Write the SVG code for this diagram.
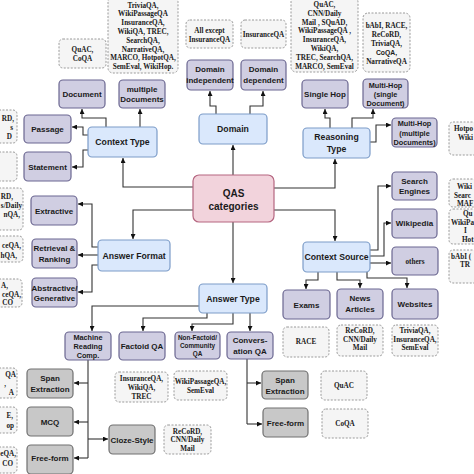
<svg xmlns="http://www.w3.org/2000/svg" width="474" height="474" viewBox="0 0 474 474">
<style>
.cat{fill:#dae8fc;stroke:#7c9cc8;stroke-width:1.2}
.qas{fill:#f2d3dc;stroke:#b56680;stroke-width:1.2}
.leaf{fill:#d0cee2;stroke:#6b6791;stroke-width:1.2}
.gray{fill:#c8c8c8;stroke:#707070;stroke-width:1.2}
.ds{fill:#f5f5f5;stroke:#9a9a9a;stroke-width:1;stroke-dasharray:2 1.5}
text{font-family:"Liberation Sans",Arial,sans-serif;font-weight:bold;fill:#1a1a1a;text-anchor:middle}
.tc{font-size:8.7px}
.tq{font-size:10px}
.tl{font-size:8px}
.ts{font-size:7.3px}
.tx{font-size:6.4px}
.td{font-family:"Liberation Serif","Times New Roman",serif;font-size:7.2px}
.e{text-anchor:end}
.s{text-anchor:start}
.con path{fill:none;stroke:#333;stroke-width:1.1}
</style>
<defs>
<marker id="a" viewBox="0 0 6 6" refX="6" refY="3" markerWidth="5" markerHeight="5" markerUnits="userSpaceOnUse" orient="auto"><path d="M0,0L6,3L0,6z" fill="#111"/></marker>
</defs>
<rect width="474" height="474" fill="#fff"/>

<g class="con">
<path d="M233 175V145" marker-end="url(#a)"/>
<path d="M216 114V106H210V91" marker-end="url(#a)"/>
<path d="M250 114V106H263V91" marker-end="url(#a)"/>
<path d="M193 187H123V158" marker-end="url(#a)"/>
<path d="M106 127V118H82V109" marker-end="url(#a)"/>
<path d="M140 127V109" marker-end="url(#a)"/>
<path d="M88 135H83V127H72" marker-end="url(#a)"/>
<path d="M88 150H83V167H72" marker-end="url(#a)"/>
<path d="M193 210H133V239" marker-end="url(#a)"/>
<path d="M98 247H92V204H78" marker-end="url(#a)"/>
<path d="M98 255H78" marker-end="url(#a)"/>
<path d="M98 265H92V292H78" marker-end="url(#a)"/>
<path d="M274 188H335V159" marker-end="url(#a)"/>
<path d="M330 128V118H325V109" marker-end="url(#a)"/>
<path d="M352 128V118H373V109" marker-end="url(#a)"/>
<path d="M370 142H376V125H391" marker-end="url(#a)"/>
<path d="M274 210H335V241" marker-end="url(#a)"/>
<path d="M370 250H378V186H391" marker-end="url(#a)"/>
<path d="M370 256H384V223H391" marker-end="url(#a)"/>
<path d="M370 263H391" marker-end="url(#a)"/>
<path d="M318 272V280H306V289" marker-end="url(#a)"/>
<path d="M337 272V280H360V288" marker-end="url(#a)"/>
<path d="M367 272V278H407V288" marker-end="url(#a)"/>
<path d="M233 222V283" marker-end="url(#a)"/>
<path d="M199 306H92V331" marker-end="url(#a)"/>
<path d="M207 313V318H143V331" marker-end="url(#a)"/>
<path d="M233 313V324H192V331" marker-end="url(#a)"/>
<path d="M250 313V331" marker-end="url(#a)"/>
<path d="M88 360V458"/>
<path d="M88 383H74" marker-end="url(#a)"/>
<path d="M88 422H74" marker-end="url(#a)"/>
<path d="M88 458H74" marker-end="url(#a)"/>
<path d="M88 439H108" marker-end="url(#a)"/>
<path d="M247 359V424"/>
<path d="M247 383H261" marker-end="url(#a)"/>
<path d="M247 424H262" marker-end="url(#a)"/>
</g>

<g id="qas"><rect class="qas" x="193" y="175" width="81" height="47" rx="6"/><text class="tq" x="233.5" y="196.5">QAS</text><text class="tq" x="233.5" y="209.5">categories</text></g>
<g id="domain"><rect class="cat" x="199" y="114" width="68" height="30" rx="4"/><text class="tc" x="233" y="132">Domain</text></g>
<g id="context-type"><rect class="cat" x="88" y="127" width="69" height="30" rx="4"/><text class="tc" x="122.5" y="145">Context Type</text></g>
<g id="reasoning-type"><rect class="cat" x="303" y="128" width="67" height="30" rx="4"/><text class="tc" x="336.5" y="140">Reasoning</text><text class="tc" x="336.5" y="151.5">Type</text></g>
<g id="answer-format"><rect class="cat" x="98" y="240" width="72" height="31" rx="4"/><text class="tc" x="134" y="258.5">Answer Format</text></g>
<g id="context-source"><rect class="cat" x="303" y="242" width="67" height="30" rx="4"/><text class="tc" x="336.5" y="260">Context Source</text></g>
<g id="answer-type"><rect class="cat" x="199" y="284" width="68" height="29" rx="4"/><text class="tc" x="233" y="301.5">Answer Type</text></g>

<g id="document"><rect class="leaf" x="59" y="80" width="46" height="28" rx="4"/><text class="tl" x="82" y="97">Document</text></g>
<g id="multiple-documents"><rect class="leaf" x="119" y="80" width="46" height="28" rx="4"/><text class="tl" x="142" y="92">multiple</text><text class="tl" x="142" y="102">Documents</text></g>
<g id="domain-independent"><rect class="leaf" x="187" y="60" width="46" height="30" rx="4"/><text class="tl" x="210" y="72">Domain</text><text class="tl" x="210" y="83">independent</text></g>
<g id="domain-dependent"><rect class="leaf" x="241" y="60" width="45" height="30" rx="4"/><text class="tl" x="263.5" y="72">Domain</text><text class="tl" x="263.5" y="83">dependent</text></g>
<g id="single-hop"><rect class="leaf" x="302" y="80" width="46" height="28" rx="4"/><text class="tl" x="325" y="97">Single Hop</text></g>
<g id="multi-hop-single"><rect class="leaf" x="363" y="79" width="45" height="29" rx="4"/><text class="ts" x="385.5" y="87.5">Multi-Hop</text><text class="ts" x="385.5" y="96.5">(single</text><text class="ts" x="385.5" y="105.5">Document)</text></g>
<g id="multi-hop-multiple"><rect class="leaf" x="392" y="118" width="45" height="29" rx="4"/><text class="ts" x="414.5" y="126">Multi-Hop</text><text class="ts" x="414.5" y="135.5">(multiple</text><text class="ts" x="414.5" y="145">Documents)</text></g>
<g id="passage"><rect class="leaf" x="24" y="115" width="47" height="28" rx="4"/><text class="tl" x="47.5" y="132">Passage</text></g>
<g id="statement"><rect class="leaf" x="24" y="152" width="47" height="29" rx="4"/><text class="tl" x="47.5" y="169.5">Statement</text></g>
<g id="extractive"><rect class="leaf" x="31" y="196" width="46" height="29" rx="4"/><text class="tl" x="54" y="213.5">Extractive</text></g>
<g id="retrieval"><rect class="leaf" x="32" y="239" width="45" height="29" rx="4"/><text class="tl" x="54.5" y="251">Retrieval &amp;</text><text class="tl" x="54.5" y="261.5">Ranking</text></g>
<g id="abstractive"><rect class="leaf" x="32" y="278" width="45" height="29" rx="4"/><text class="tl" x="54.5" y="290.5">Abstractive/</text><text class="tl" x="54.5" y="301">Generative</text></g>
<g id="search-engines"><rect class="leaf" x="392" y="172" width="45" height="28" rx="4"/><text class="tl" x="414.5" y="184">Search</text><text class="tl" x="414.5" y="194">Engines</text></g>
<g id="wikipedia"><rect class="leaf" x="392" y="209" width="45" height="29" rx="4"/><text class="tl" x="414.5" y="226">Wikipedia</text></g>
<g id="others"><rect class="leaf" x="392" y="247" width="46" height="28" rx="4"/><text class="td" x="415" y="264">others</text></g>
<g id="exams"><rect class="leaf" x="283" y="290" width="47" height="29" rx="4"/><text class="tl" x="306.5" y="307.5">Exams</text></g>
<g id="news-articles"><rect class="leaf" x="337" y="289" width="46" height="30" rx="4"/><text class="tl" x="360" y="301">News</text><text class="tl" x="360" y="312">Articles</text></g>
<g id="websites"><rect class="leaf" x="392" y="289" width="46" height="30" rx="4"/><text class="tl" x="415" y="307">Websites</text></g>
<g id="mrc"><rect class="leaf" x="65" y="332" width="46" height="28" rx="4"/><text class="ts" x="88" y="340">Machine</text><text class="ts" x="88" y="349">Reading</text><text class="ts" x="88" y="358">Comp.</text></g>
<g id="factoid"><rect class="leaf" x="119" y="332" width="46" height="28" rx="4"/><text class="tl" x="142" y="349">Factoid QA</text></g>
<g id="non-factoid"><rect class="leaf" x="175" y="332" width="45" height="27" rx="4"/><text class="tx" x="197.5" y="339.5">Non-Factoid/</text><text class="tx" x="197.5" y="347.5">Community</text><text class="tx" x="197.5" y="356">QA</text></g>
<g id="conversation"><rect class="leaf" x="227" y="332" width="46" height="27" rx="4"/><text class="tl" x="250" y="343">Convers-</text><text class="tl" x="250" y="354">ation QA</text></g>

<g id="span-mrc"><rect class="gray" x="27" y="369" width="46" height="29" rx="4"/><text class="tl" x="50" y="381">Span</text><text class="tl" x="50" y="391.5">Extraction</text></g>
<g id="mcq"><rect class="gray" x="27" y="407" width="46" height="29" rx="4"/><text class="tl" x="50" y="425">MCQ</text></g>
<g id="free-mrc"><rect class="gray" x="27" y="445" width="46" height="29" rx="4"/><text class="tl" x="50" y="461">Free-form</text></g>
<g id="cloze"><rect class="gray" x="109" y="425" width="46" height="29" rx="4"/><text class="tl" x="132" y="442.5">Cloze-Style</text></g>
<g id="span-conv"><rect class="gray" x="262" y="371" width="46" height="28" rx="4"/><text class="tl" x="285" y="383">Span</text><text class="tl" x="285" y="393.5">Extraction</text></g>
<g id="free-conv"><rect class="gray" x="263" y="408" width="45" height="29" rx="4"/><text class="tl" x="285.5" y="425.5">Free-form</text></g>

<g id="ds-doc"><rect class="ds" x="59" y="39" width="47" height="29" rx="4"/><text class="td" x="82.5" y="52">QuAC,</text><text class="td" x="82.5" y="61">CoQA</text></g>
<g id="ds-multi"><rect class="ds" x="108" y="-3" width="70" height="76" rx="5"/>
<text class="td" x="143" y="7.5">TriviaQA,</text><text class="td" x="143" y="16.3">WikiPassageQA</text><text class="td" x="143" y="25.1">InsuranceQA,</text><text class="td" x="143" y="33.9">WikiQA, TREC,</text><text class="td" x="143" y="42.7">SearchQA,</text><text class="td" x="143" y="51.5">NarrativeQA,</text><text class="td" x="143" y="60.3">MARCO, HotpotQA,</text><text class="td" x="143" y="69.1">SemEval, WikiHop.</text></g>
<g id="ds-indep"><rect class="ds" x="186" y="20" width="47" height="28" rx="4"/><text class="td" x="209.5" y="32.5">All except</text><text class="td" x="209.5" y="41.5">InsuranceQA</text></g>
<g id="ds-dep"><rect class="ds" x="241" y="20" width="45" height="28" rx="4"/><text class="td" x="263.5" y="37">InsuranceQA</text></g>
<g id="ds-single"><rect class="ds" x="291" y="-3" width="67" height="75" rx="5"/>
<text class="td" x="324.5" y="7">QuAC,</text><text class="td" x="324.5" y="15.8">CNN/Daily</text><text class="td" x="324.5" y="24.6">Mail , SQuAD,</text><text class="td" x="324.5" y="33.4">WikiPassageQA ,</text><text class="td" x="324.5" y="42.2">InsuranceQA,</text><text class="td" x="324.5" y="51">WikiQA,</text><text class="td" x="324.5" y="59.8">TREC, SearchQA,</text><text class="td" x="324.5" y="68.6">MARCO, SemEval</text></g>
<g id="ds-multihop"><rect class="ds" x="363" y="13" width="47" height="59" rx="5"/>
<text class="td" x="386.5" y="27.5">bAbI, RACE,</text><text class="td" x="386.5" y="36.5">ReCoRD,</text><text class="td" x="386.5" y="45.5">TriviaQA,</text><text class="ts" x="386.5" y="54.5" style="font-size:6.8px">CoQA,</text><text class="td" x="386.5" y="63.5">NarrativeQA</text></g>
<g id="ds-factoid"><rect class="ds" x="115" y="372" width="53" height="30" rx="4"/><text class="td" x="141.5" y="380.5">InsuranceQA,</text><text class="td" x="141.5" y="389.5">WikiQA,</text><text class="td" x="141.5" y="398.5">TREC</text></g>
<g id="ds-nonfactoid"><rect class="ds" x="174" y="371" width="53" height="29" rx="4"/><text class="td" x="200.5" y="383.5">WikiPassageQA,</text><text class="td" x="200.5" y="392.5">SemEval</text></g>
<g id="ds-cloze"><rect class="ds" x="164" y="425" width="47" height="29" rx="4"/><text class="td" x="187.5" y="433.5">ReCoRD,</text><text class="td" x="187.5" y="442">CNN/Daily</text><text class="td" x="187.5" y="450.5">Mail</text></g>
<g id="ds-exams"><rect class="ds" x="283" y="327" width="46" height="30" rx="4"/><text class="td" x="306" y="344">RACE</text></g>
<g id="ds-news"><rect class="ds" x="337" y="325" width="46" height="31" rx="4"/><text class="td" x="360" y="333">ReCoRD,</text><text class="td" x="360" y="341.5">CNN/Daily</text><text class="td" x="360" y="350">Mail</text></g>
<g id="ds-web"><rect class="ds" x="392" y="325" width="46" height="31" rx="4"/><text class="td" x="415" y="333">TriviaQA,</text><text class="td" x="415" y="341.5">InsuranceQA,</text><text class="td" x="415" y="350">SemEval</text></g>
<g id="ds-quac"><rect class="ds" x="321" y="371" width="46" height="29" rx="4"/><text class="td" x="344" y="388">QuAC</text></g>
<g id="ds-coqa"><rect class="ds" x="322" y="409" width="46" height="29" rx="4"/><text class="td" x="345" y="426">CoQA</text></g>

<g id="ds-left">
<rect class="ds" x="-40" y="110" width="57" height="33" rx="4"/><text class="td e" x="14" y="121">RD,</text><text class="td e" x="13" y="130">s</text><text class="td e" x="12" y="139">D</text>
<rect class="ds" x="-40" y="152" width="57" height="29" rx="4"/>
<rect class="ds" x="-40" y="188" width="63" height="42" rx="4"/><text class="td e" x="13" y="198.5">RD,</text><text class="td e" x="22" y="207.5">s/Daily</text><text class="td e" x="20" y="216.5">nQA,</text>
<rect class="ds" x="-40" y="236" width="63" height="26" rx="4"/><text class="td e" x="21" y="247.5">ceQA,</text><text class="td e" x="17" y="257.5">hQA,</text>
<rect class="ds" x="-40" y="279" width="62" height="28" rx="4"/><text class="td e" x="8" y="288">A,</text><text class="td e" x="21" y="296.5">ceQA,</text><text class="td e" x="13" y="305">CO</text>
<rect class="ds" x="-40" y="368" width="57" height="30" rx="4"/><text class="td e" x="16" y="377">QA</text><text class="td e" x="6" y="386">,</text><text class="td e" x="14" y="395">A</text>
<rect class="ds" x="-40" y="407" width="57" height="26" rx="4"/><text class="td e" x="13" y="418">E,</text><text class="td e" x="14" y="428">op</text>
<rect class="ds" x="-40" y="447" width="57" height="26" rx="4"/><text class="td e" x="16" y="456">eQA,</text><text class="td e" x="13" y="466">CO</text>
</g>
<g id="ds-right">
<rect class="ds" x="449" y="122" width="60" height="33" rx="4"/><text class="td s" x="454" y="131">Hotpo</text><text class="td s" x="458" y="140">Wiki</text>
<rect class="ds" x="449" y="179" width="60" height="28" rx="4"/><text class="td s" x="457" y="189">Wiki</text><text class="td s" x="454" y="197.5">Searc</text><text class="td s" x="457" y="206">MAF</text>
<rect class="ds" x="449" y="209" width="60" height="35" rx="4"/><text class="td s" x="463" y="216">Qu</text><text class="td s" x="451" y="224.5">WikiPa</text><text class="td s" x="464" y="233">I</text><text class="td s" x="462" y="241.5">Hot</text>
<rect class="ds" x="449" y="250" width="60" height="33" rx="4"/><text class="td s" x="451" y="258.5">bAbI (</text><text class="td s" x="460" y="267">TR</text>
</g>
</svg>
